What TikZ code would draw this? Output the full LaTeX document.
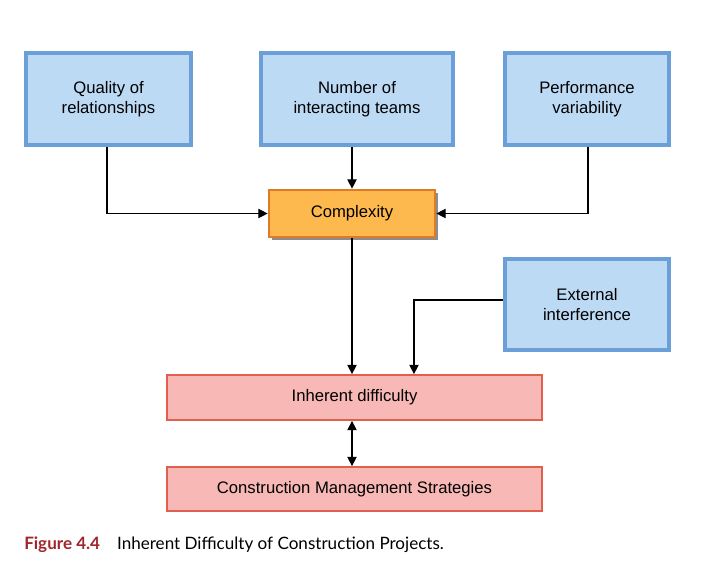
\documentclass[tikz,border=0pt]{standalone}
\usepackage{fontspec}
\setmainfont{Liberation Sans}
\newfontfamily\capfont{Lato}
\usetikzlibrary{arrows.meta,shadows}
\definecolor{bfill}{HTML}{BDDAF5}
\definecolor{bdraw}{HTML}{6A9FD8}
\definecolor{ofill}{HTML}{FDB94D}
\definecolor{odraw}{HTML}{E07A2A}
\definecolor{pfill}{HTML}{F8B8B5}
\definecolor{pdraw}{HTML}{E06050}
\definecolor{capred}{HTML}{A0262C}
\begin{document}
\begin{tikzpicture}[x=0.75pt,y=-0.75pt,
 box/.style={draw=bdraw,fill=bfill,line width=2.4pt,align=center,font=\fontsize{12.5}{15}\selectfont,inner sep=0pt},
 cbox/.style={draw=odraw,fill=ofill,line width=2pt,font=\fontsize{12.5}{15}\selectfont,drop shadow={shadow xshift=2pt,shadow yshift=-2pt,fill=black!45,opacity=1},inner sep=0pt},
 pbox/.style={draw=pdraw,fill=pfill,line width=1.3pt,font=\fontsize{12.5}{15}\selectfont,inner sep=0pt},
 arr/.style={-{Triangle[length=7pt,width=7pt]},line width=0.9pt}]
\useasboundingbox (0,0) rectangle (720,578);
\node[box,minimum width=165*0.75pt,minimum height=92*0.75pt] (q) at (108.5,99) {Quality of\\relationships};
\node[box,minimum width=192*0.75pt,minimum height=92*0.75pt] (n) at (357,99) {Number of\\interacting teams};
\node[box,minimum width=164*0.75pt,minimum height=92*0.75pt] (p) at (587,99) {Performance\\variability};
\node[cbox,minimum width=166*0.75pt,minimum height=47*0.75pt] (c) at (352,213.5) {Complexity};
\node[box,minimum width=164*0.75pt,minimum height=91*0.75pt] (e) at (587,304.5) {External\\interference};
\node[pbox,minimum width=375*0.75pt,minimum height=45*0.75pt] (i) at (354.5,397.5) {Inherent difficulty};
\node[pbox,minimum width=375*0.75pt,minimum height=44*0.75pt] (s) at (354.5,489) {Construction Management Strategies};
\draw[arr] (q.south) ++(-1.5,0) |- (c.west);
\draw[arr] (n.south -| c) -- (c.north);
\draw[arr] (p.south) ++(1,0) |- (c.east);
\draw[arr] (c.south) -- (c.south |- i.north);
\coordinate (ek) at (414,300);
\draw[arr] (e.west |- ek) -- (ek) -- (ek |- i.north);
\draw[{Triangle[length=7pt,width=7pt]}-{Triangle[length=7pt,width=7pt]},line width=0.9pt] (i.south -| c) -- (s.north -| c);
\node[anchor=west,font=\capfont\fontsize{12.8}{15}\selectfont,inner sep=0pt] (cap) at (24,545) {\textcolor{capred}{\bfseries Figure 4.4}\hspace{1em}Inherent Difficulty of Construction Projects.};
\end{tikzpicture}
\end{document}
